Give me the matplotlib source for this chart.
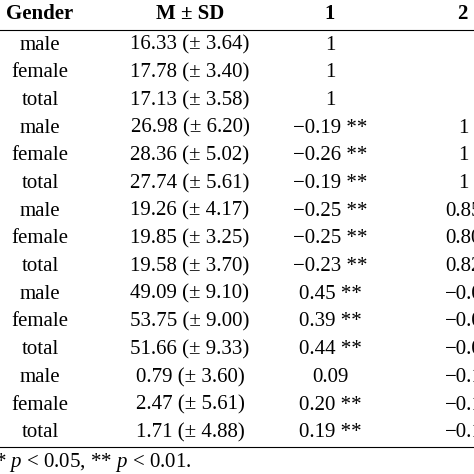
import matplotlib.pyplot as plt

headers = ["Gender", "M ± SD", "1", "2"]
gender = ["male", "female", "total"] * 5
msd = ["16.33 (± 3.64)", "17.78 (± 3.40)", "17.13 (± 3.58)",
       "26.98 (± 6.20)", "28.36 (± 5.02)", "27.74 (± 5.61)",
       "19.26 (± 4.17)", "19.85 (± 3.25)", "19.58 (± 3.70)",
       "49.09 (± 9.10)", "53.75 (± 9.00)", "51.66 (± 9.33)",
       "0.79 (± 3.60)", "2.47 (± 5.61)", "1.71 (± 4.88)"]
col1 = ["1", "1", "1", "−0.19 **", "−0.26 **", "−0.19 **",
        "−0.25 **", "−0.25 **", "−0.23 **", "0.45 **", "0.39 **", "0.44 **",
        "0.09", "0.20 **", "0.19 **"]
col2 = ["", "", "", "1", "1", "1", "0.85", "0.80", "0.82",
        "−0.05", "−0.06", "−0.05", "−0.12", "−0.13", "−0.12"]
footnote = "* $p$ < 0.05, ** $p$ < 0.01."

fig = plt.figure(figsize=(4.74, 4.74), dpi=100)
ax = fig.add_axes([0, 0, 1, 1])
ax.set_xlim(0, 474); ax.set_ylim(474, 0); ax.axis("off")
fs = 15
fam = "Liberation Serif"
plt.rcParams['mathtext.fontset'] = 'custom'
plt.rcParams['mathtext.it'] = 'Liberation Serif:italic'
hy = 14
ax.text(40, hy, headers[0], ha="center", va="center", fontsize=fs, weight="bold", family=fam)
ax.text(190, hy, headers[1], ha="center", va="center", fontsize=fs, weight="bold", family=fam)
ax.text(330, hy, headers[2], ha="center", va="center", fontsize=fs, weight="bold", family=fam)
ax.text(462, hy, headers[3], ha="center", va="center", fontsize=fs, weight="bold", family=fam)
ax.plot([0, 474], [30, 30], color="black", lw=0.8)
for i in range(len(gender)):
    y = 45 + i * 27.7
    ax.text(40, y, gender[i], ha="center", va="center", fontsize=fs, family=fam)
    ax.text(190, y, msd[i], ha="center", va="center", fontsize=fs, family=fam)
    ax.text(330, y, col1[i], ha="center", va="center", fontsize=fs, family=fam)
    if col2[i] == "1":
        ax.text(463, y, col2[i], ha="center", va="center", fontsize=fs, family=fam)
    elif col2[i]:
        ax.text(445, y, col2[i], ha="left", va="center", fontsize=fs, family=fam)
ax.plot([0, 474], [447, 447], color="black", lw=0.8)
ax.text(-5, 463, footnote, ha="left", va="center", fontsize=fs, family=fam)
fig.savefig("out.png", dpi=100)
